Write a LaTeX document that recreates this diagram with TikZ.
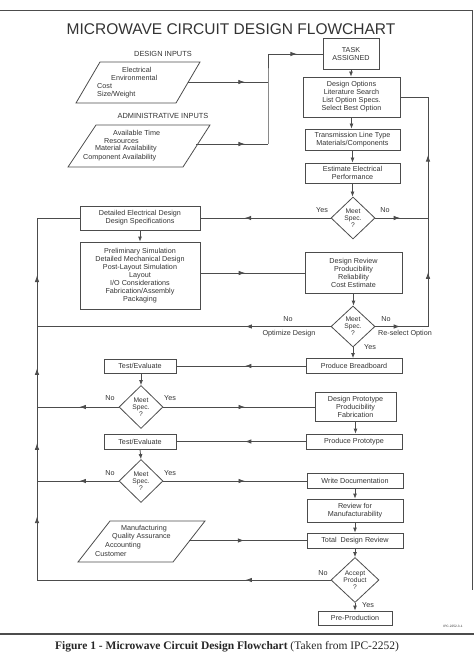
\documentclass[tikz,border=0pt]{standalone}
\usepackage{fontspec}
\setmainfont{Liberation Serif}
\setsansfont{Liberation Sans}
\usetikzlibrary{arrows.meta,shapes.geometric,decorations.markings}
\definecolor{lc}{gray}{0.3}
\definecolor{tc}{gray}{0.2}
\begin{document}
\begin{tikzpicture}[x=1pt,y=-1pt,
  txt/.style={font=\sffamily\fontsize{7.2}{8}\selectfont, text=tc},
  box/.style={draw=lc, line width=0.8pt, align=center, inner sep=0pt, txt},
  dia/.style={diamond, aspect=1, draw=lc, line width=0.8pt, align=center, inner sep=0pt, font=\sffamily\fontsize{6.7}{7}\selectfont, text=tc},
  ln/.style={draw=lc, line width=0.8pt},
  arr/.style={ln, -{Latex[length=5pt,width=4pt]}},
  marr/.style={postaction={decorate, decoration={markings, mark=at position #1 with {\arrow[lc]{Latex[length=6.5pt,width=4.5pt]}}}}},
  lbl/.style={txt, inner sep=0pt},
  pline/.style={txt, inner sep=0pt, anchor=west}
]
\useasboundingbox (0,0) rectangle (474,660);
% frame
\draw[ln] (0,10) -- (472,10) -- (472,590);
\draw[draw=lc, line width=1.5pt] (0,634) -- (474,634);

% title
\node[font=\sffamily\fontsize{15.5}{17}\selectfont, text=tc] (title) at (231,29) {MICROWAVE CIRCUIT DESIGN FLOWCHART};

% input headings
\node[lbl, font=\sffamily\fontsize{7.4}{8}\selectfont] (hdes) at (163,54) {DESIGN INPUTS};
\node[lbl, font=\sffamily\fontsize{7.4}{8}\selectfont] (hadm) at (163,116) {ADMINISTRATIVE INPUTS};

% parallelogram: design inputs
\draw[ln] (100,62) -- (200,62) -- (176,103) -- (76,103) -- cycle;
\coordinate (dinR) at (188,82);
\node[pline] (di1) at (122,70) {Electrical};
\node[pline] (di2) at (111,78) {Environmental};
\node[pline] (di3) at (97,86) {Cost};
\node[pline] (di4) at (97,95) {Size/Weight};

% parallelogram: administrative inputs
\draw[ln] (96,125) -- (210,125) -- (183,167) -- (68,167) -- cycle;
\coordinate (ainR) at (196,144);
\node[pline] (ai1) at (113,133) {Available Time};
\node[pline] (ai2) at (104,141) {Resources};
\node[pline] (ai3) at (95,149) {Material Availability};
\node[pline] (ai4) at (83,158) {Component Availability};

% parallelogram: manufacturing
\draw[ln] (110,521) -- (205,521) -- (173,562) -- (78,562) -- cycle;
\coordinate (mfgR) at (189,540.5);
\node[pline] (mf1) at (121,529) {Manufacturing};
\node[pline] (mf2) at (112,537) {Quality Assurance};
\node[pline] (mf3) at (105,546) {Accounting};
\node[pline] (mf4) at (95,554) {Customer};

% boxes
\node[box, minimum width=56, minimum height=31] (task) at (351,54) {TASK\\ASSIGNED};
\node[box, minimum width=97, minimum height=40] (opts) at (351.5,97) {Design Options\\Literature Search\\List Option Specs.\\Select Best Option};
\node[box, minimum width=95, minimum height=21] (tline) at (352.5,139.5) {Transmission Line Type\\Materials/Components};
\node[box, minimum width=95, minimum height=20] (est) at (352.5,173) {Estimate Electrical\\Performance};
\node[dia, minimum width=44, minimum height=42] (d1) at (353,218) {Meet\\Spec.\\?};
\node[box, minimum width=120, minimum height=24] (detail) at (140,218) {Detailed Electrical Design\\Design Specifications};
\node[box, minimum width=120, minimum height=67] (prelim) at (140,275.5) {Preliminary Simulation\\Detailed Mechanical Design\\Post-Layout Simulation\\Layout\\I/O Considerations\\Fabrication/Assembly\\Packaging};
\node[box, minimum width=97, minimum height=41] (review) at (353.5,273) {Design Review\\Producibility\\Reliability\\Cost Estimate};
\node[dia, minimum width=44, minimum height=41] (d2) at (353,326.5) {Meet\\Spec.\\?};
\node[box, minimum width=96, minimum height=15] (bread) at (354,366) {Produce Breadboard};
\node[box, minimum width=72, minimum height=14] (test1) at (140,366) {Test/Evaluate};
\node[dia, minimum width=44, minimum height=43] (d3) at (141,407) {Meet\\Spec.\\?};
\node[box, minimum width=81, minimum height=29] (proto) at (355.5,407) {Design Prototype\\Producibility\\Fabrication};
\node[box, minimum width=96, minimum height=15] (pproto) at (354,441.5) {Produce Prototype};
\node[box, minimum width=72, minimum height=15] (test2) at (140,441.5) {Test/Evaluate};
\node[dia, minimum width=44, minimum height=43] (d4) at (141,481) {Meet\\Spec.\\?};
\node[box, minimum width=96, minimum height=15] (wdoc) at (355,481) {Write Documentation};
\node[box, minimum width=96, minimum height=23] (rman) at (355,510.5) {Review for\\Manufacturability};
\node[box, minimum width=96, minimum height=15] (tdr) at (355,540.5) {Total\ \ Design Review};
\node[dia, minimum width=48, minimum height=45] (d5) at (355,580) {Accept\\Product\\?};
\node[box, minimum width=74, minimum height=14] (pre) at (355,618) {Pre-Production};

% junction coordinates
\coordinate (jA) at (268,144);
\coordinate (jD) at (268,82);
\coordinate (jT) at (268,54);
\coordinate (rb) at (428,326.5);
\coordinate (rm) at (428,218);
\coordinate (rt) at (428,97);
\coordinate (lt) at (37,218);
\coordinate (l2) at (37,326.5);
\coordinate (l3) at (37,407);
\coordinate (l4) at (37,481);
\coordinate (lb) at (37,580);

% top inputs
\draw[ln, marr=0.71] (dinR) -- (jD);
\draw[ln, marr=0.68] (ainR) -- (jA);
\draw[ln] (jA) -- (jD) -- (jT);
\draw[ln, marr=0.53] (jT) -- (task.west);

% main column
\draw[arr] (task.south) -- (task.south |- opts.north);
\draw[arr] (opts.south) -- (opts.south |- tline.north);
\draw[arr] (tline.south) -- (tline.south |- est.north);
\draw[arr] (est.south) -- (est.south |- d1.north);
\draw[ln, marr=0.66] (d1.west) -- (detail.east);
\draw[ln, marr=0.47] (d1.east) -- (rm);
\draw[arr] (detail.south) -- (detail.south |- prelim.north);
\draw[ln, marr=0.43] (prelim.east |- review.west) -- (review.west);
\draw[arr] (review.south) -- (review.south |- d2.north);
\draw[ln, marr=0.29] (d2.west) -- (l2);
\draw[ln, marr=0.47] (d2.east) -- (rb);
\draw[ln, marr=0.5] (rb) -- (rm);
\draw[ln, marr=0.52] (rm) -- (rt);
\draw[ln] (rt) -- (opts.east);
\draw[arr] (d2.south) -- (d2.south |- bread.north);
\draw[ln, marr=0.47] (bread.west) -- (test1.east);
\draw[arr] (test1.south) -- (test1.south -| d3.north) -- (d3.north);
\draw[ln, marr=0.48] (d3.west) -- (l3);
\draw[ln, marr=0.54] (d3.east) -- (proto.west);
\draw[arr] (proto.south) -- (proto.south |- pproto.north);
\draw[ln, marr=0.47] (pproto.west) -- (test2.east);
\draw[arr] (test2.south) -- (d4.north);
\draw[ln, marr=0.48] (d4.west) -- (l4);
\draw[ln, marr=0.57] (d4.east) -- (wdoc.west);
\draw[arr] (wdoc.south) -- (wdoc.south |- rman.north);
\draw[arr] (rman.south) -- (rman.south |- tdr.north);
\draw[ln, marr=0.47] (mfgR) -- (mfgR -| tdr.west);
\draw[arr] (tdr.south) -- (d5.north);
\draw[ln, marr=0.29] (d5.west) -- (lb);
\draw[arr] (d5.south) -- (pre.north);

% left feedback line
\draw[ln, marr=0.64] (lb) -- (l4);
\draw[ln, marr=0.51] (l4) -- (l3);
\draw[ln, marr=0.48] (l3) -- (l2);
\draw[ln, marr=0.47] (l2) -- (lt);
\draw[ln] (lt) -- (detail.west);

% labels
\node[lbl] (y1) at (322,210) {Yes};
\node[lbl] (n1) at (385,210) {No};
\node[lbl] (n2a) at (288,319) {No};
\node[lbl] (od) at (289,334) {Optimize Design};
\node[lbl] (n2b) at (386,319) {No};
\node[lbl] (ro) at (405,334) {Re-select Option};
\node[lbl] (y2) at (370,347) {Yes};
\node[lbl] (n3) at (110,398) {No};
\node[lbl] (y3) at (170,398) {Yes};
\node[lbl] (n4) at (110,473) {No};
\node[lbl] (y4) at (170,473) {Yes};
\node[lbl] (n5) at (323,573) {No};
\node[lbl] (y5) at (368,605) {Yes};

\node[font=\sffamily\fontsize{3.2}{4}\selectfont, text=tc, inner sep=0pt] (ipc) at (453,626) {IPC-2252-3-1};

% caption
\node[font=\rmfamily\fontsize{11.5}{13}\selectfont, text=black!85, inner sep=0pt] (cap) at (227,647) {\textbf{Figure 1 - Microwave Circuit Design Flowchart} (Taken from IPC-2252)};
\end{tikzpicture}
\end{document}
